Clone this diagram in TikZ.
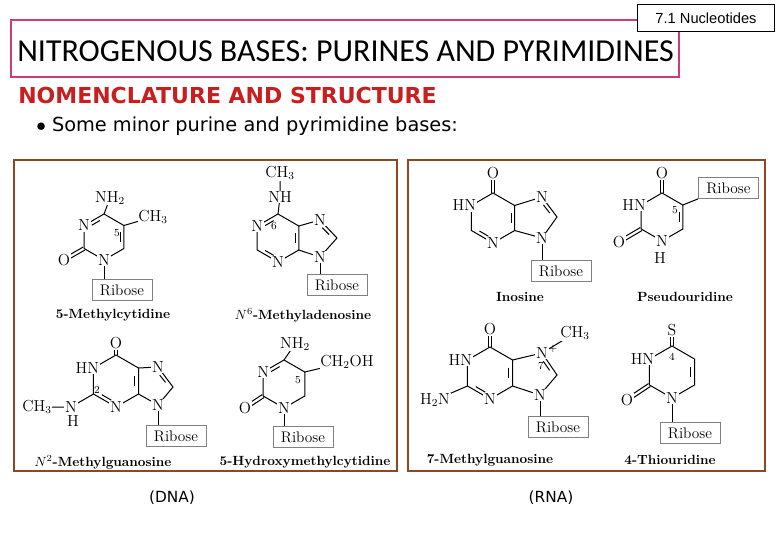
\documentclass[tikz,border=0pt]{standalone}
\usepackage{fontspec}
\usetikzlibrary{calc}
\newfontfamily\titlefont{Carlito}
\newfontfamily\verd{DejaVu Sans}
\newfontfamily\arialf{Liberation Sans}
\definecolor{brownf}{RGB}{138,72,36}
\definecolor{pinkf}{RGB}{205,60,120}
\definecolor{redt}{RGB}{200,30,30}
\tikzset{
 bond/.style={line width=0.75pt},
 atom/.style={fill=white,inner sep=0.6pt,font=\fontsize{12}{14}\selectfont},
 small/.style={font=\footnotesize,inner sep=0pt},
 ribbox/.style={draw=gray,line width=0.6pt,minimum width=60*0.75pt,minimum height=21*0.75pt,inner sep=1pt,fill=white,font=\fontsize{11.5}{13}\selectfont},
 cname/.style={font=\fontsize{10}{12}\selectfont\bfseries,inner sep=1pt},
 panel/.style={draw=brownf,line width=2.2pt}
}
\newcommand\hexr[4]{%
 \coordinate (#4c) at (#1,#2);
 \coordinate (#4t) at (#1,{#2-#3});
 \coordinate (#4ur) at ({#1+0.866*#3},{#2-0.5*#3});
 \coordinate (#4lr) at ({#1+0.866*#3},{#2+0.5*#3});
 \coordinate (#4b) at (#1,{#2+#3});
 \coordinate (#4ll) at ({#1-0.866*#3},{#2+0.5*#3});
 \coordinate (#4ul) at ({#1-0.866*#3},{#2-0.5*#3});
 \draw[bond] (#4t)--(#4ur)--(#4lr)--(#4b)--(#4ll)--(#4ul)--cycle;}
\newcommand\pent[7]{%
 \coordinate (#1p7) at (#2,#3);
 \coordinate (#1p8) at (#4,#5);
 \coordinate (#1p9) at (#6,#7);
 \coordinate (#1pc) at ($($(#1ur)!.5!(#1lr)$)!.45!(#1p8)$);
 \draw[bond] (#1ur)--(#1p7)--(#1p8)--(#1p9)--(#1lr);}
\newcommand\dbl[3]{\draw[bond] ($($(#1)!.25!(#2)$)!2.8pt!(#3)$) -- ($($(#1)!.75!(#2)$)!2.8pt!(#3)$);}
\newcommand\dbo[2]{\draw[bond] ($(#1)!1.3pt!90:(#2)$) -- ($(#2)!1.3pt!-90:(#1)$);
 \draw[bond] ($(#1)!1.3pt!-90:(#2)$) -- ($(#2)!1.3pt!90:(#1)$);}
\begin{document}
\begin{tikzpicture}[x=0.75pt,y=-0.75pt]
\useasboundingbox (0,0) rectangle (780,540);
% header
\node[draw=pinkf,line width=1.5pt,minimum width=668*0.75pt,minimum height=57*0.75pt,inner sep=0pt] (title) at (345,48) {};
\node[anchor=west,inner sep=0pt,font=\titlefont\fontsize{24}{26}\selectfont] (titletext) at (17,51) {NITROGENOUS BASES: PURINES AND PYRIMIDINES};
\node[draw,fill=white,line width=0.8pt,minimum width=137*0.75pt,minimum height=27*0.75pt,inner sep=0pt,font=\arialf\fontsize{11}{12}\selectfont] (hdr) at (706,18) {7.1 Nucleotides};
\node[anchor=west,text=redt,font=\verd\bfseries\fontsize{16.5}{18}\selectfont,inner sep=0pt] (nom) at (18,95) {NOMENCLATURE AND STRUCTURE};
\node[anchor=west,font=\verd\fontsize{14.5}{17}\selectfont,inner sep=0pt] (bul) at (36,126) {$\bullet$ Some minor purine and pyrimidine bases:};
\draw[panel] (14,160) rectangle (397,471);
\draw[panel] (408,160) rectangle (765,471);
\node[font=\verd\fontsize{11.5}{13}\selectfont] (dna) at (172,498) {(DNA)};
\node[font=\verd\fontsize{11.5}{13}\selectfont] (rna) at (551,498) {(RNA)};

% ===== 5-Methylcytidine
\hexr{104}{237}{23}{a}
\dbl{at}{aul}{ac} \dbl{aur}{alr}{ac}
\coordinate (aN) at (110,198); \coordinate (aCH) at (153,217); \coordinate (aO) at (64,260);
\draw[bond] (at)--(aN); \draw[bond] (aur)--(aCH); \dbo{all}{aO};
\node[ribbox] (arib) at (122,290) {Ribose};
\draw[bond] (ab)--(arib.north -| ab);
\node[atom] (aNH2) at (aN) {NH$_2$};
\node[atom] (aCH3) at (aCH) {CH$_3$};
\node[atom] (aOx) at (aO) {O};
\node[atom] (aN3) at (aul) {N};
\node[atom] (aN1) at (ab) {N};
\node[small] (a5) at (117,233) {5};
\node[cname] (aname) at (113,315) {5-Methylcytidine};

% ===== N6-Methyladenosine
\hexr{278}{238}{24}{b}
\pent{b}{320}{220}{337}{238}{320}{257}
\dbl{bt}{bul}{bc} \dbl{bll}{bb}{bc} \dbl{bur}{blr}{bc} \dbl{bp7}{bp8}{bpc}
\coordinate (bN) at (280,197); \coordinate (bC) at (280,173);
\draw[bond] (bt)--(bN)--(bC);
\node[ribbox] (brib) at (337,285) {Ribose};
\draw[bond] (bp9)--(brib.north -| bp9);
\node[atom] (bNH) at (bN) {NH};
\node[atom] (bCH3) at (bC) {CH$_3$};
\node[atom] (bN1) at (bul) {N};
\node[atom] (bN3) at (bb) {N};
\node[atom] (bN7) at (bp7) {N};
\node[atom] (bN9) at (bp9) {N};
\node[small] (b6) at (274,226) {6};
\node[cname] (bname) at (303,315) {$N^6$-Methyladenosine};

% ===== N2-Methylguanosine
\hexr{116}{381}{26}{c}
\pent{c}{158}{367}{173}{387}{158}{405}
\dbl{cll}{cb}{cc} \dbl{cur}{clr}{cc} \dbl{cp7}{cp8}{cpc}
\coordinate (cO) at (116,343); \coordinate (cNm) at (71,407); \coordinate (cCH) at (37,407);
\dbo{ct}{cO}; \draw[bond] (cll)--(cNm)--(cCH);
\node[ribbox] (crib) at (176,436) {Ribose};
\draw[bond] (cp9)--(crib.north -| cp9);
\node[atom] (cOx) at (cO) {O};
\node[atom] (cHN) at ($(cul)+(-6,0)$) {HN};
\node[atom] (cN3) at (cb) {N};
\node[atom] (cN7) at (cp7) {N};
\node[atom] (cN9) at (cp9) {N};
\node[atom] (cN2) at (cNm) {N};
\node[atom] (cH) at (73,421) {H};
\node[atom] (cCH3) at (cCH) {CH$_3$};
\node[small] (c2) at (97,390) {2};
\node[cname] (cname) at (103,462) {$N^2$-Methylguanosine};

% ===== 5-Hydroxymethylcytidine
\hexr{284}{384}{24}{d}
\dbl{dt}{dul}{dc}
\coordinate (dN) at (295,344); \coordinate (dCH) at (347,362); \coordinate (dO) at (245,408);
\draw[bond] (dt)--(dN); \draw[bond] (dur)--(dCH); \dbo{dll}{dO};
\node[ribbox] (drib) at (303,437) {Ribose};
\draw[bond] (db)--(drib.north -| db);
\node[atom] (dNH2) at (dN) {NH$_2$};
\node[atom] (dCH2) at (dCH) {CH$_2$OH};
\node[atom] (dOx) at (dO) {O};
\node[atom] (dN3) at (dul) {N};
\node[atom] (dN1) at (db) {N};
\node[small] (d5) at (298,380) {5};
\node[cname] (dname) at (305,462) {5-Hydroxymethylcytidine};

% ===== Inosine
\hexr{493}{218}{25}{e}
\pent{e}{542}{197}{557}{217}{542}{238}
\dbl{ell}{eb}{ec} \dbl{eur}{elr}{ec} \dbl{ep7}{ep8}{epc}
\coordinate (eO) at (493,173);
\dbo{et}{eO};
\node[ribbox] (erib) at (561,271) {Ribose};
\draw[bond] (ep9)--(erib.north -| ep9);
\node[atom] (eOx) at (eO) {O};
\node[atom] (eHN) at ($(eul)+(-7,0)$) {HN};
\node[atom] (eN3) at (eb) {N};
\node[atom] (eN7) at (ep7) {N};
\node[atom] (eN9) at (ep9) {N};
\node[cname] (ename) at (520,297) {Inosine};

% ===== Pseudouridine
\hexr{662}{217}{24}{f}
\dbl{fur}{flr}{fc}
\coordinate (fO) at (662,173); \coordinate (fO2) at (619,242);
\dbo{ft}{fO}; \dbo{fll}{fO2};
\node[ribbox,anchor=west] (frib) at (698,188) {Ribose};
\draw[bond] (fur)--(frib.south west);
\node[atom] (fOx) at (fO) {O};
\node[atom] (fOy) at (fO2) {O};
\node[atom] (fHN) at ($(ful)+(-7,0)$) {HN};
\node[atom] (fN1) at (fb) {N};
\node[atom] (fH) at (660,258) {H};
\node[small] (f5) at (675,210) {5};
\node[cname] (fname) at (685,297) {Pseudouridine};

% ===== 7-Methylguanosine
\hexr{490}{373}{26}{g}
\pent{g}{542}{353}{557}{375}{540}{395}
\dbl{gll}{gb}{gc} \dbl{gur}{glr}{gc} \dbl{gp7}{gp8}{gpc}
\coordinate (gO) at (490,329); \coordinate (gCH) at (575,333); \coordinate (gNH) at (435,400);
\dbo{gt}{gO}; \draw[bond] (gp7)--(gCH); \draw[bond] (gll)--(gNH);
\node[ribbox] (grib) at (558,427) {Ribose};
\draw[bond] (gp9)--(grib.north -| gp9);
\node[atom] (gOx) at (gO) {O};
\node[atom] (gCH3) at (gCH) {CH$_3$};
\node[atom] (gH2N) at (gNH) {H$_2$N};
\node[atom] (gHN) at ($(gul)+(-7,0)$) {HN};
\node[atom] (gN3) at (gb) {N};
\node[atom] (gN7) at (gp7) {N};
\node[atom] (gN9) at (gp9) {N};
\node[small] (gplus) at (553,349) {+};
\node[small] (g7) at (541,366) {7};
\node[cname] (gname) at (490,460) {7-Methylguanosine};

% ===== 4-Thiouridine
\hexr{672}{372}{26}{h}
\dbl{hur}{hlr}{hc}
\coordinate (hS) at (672,330); \coordinate (hO) at (627,400);
\dbo{ht}{hS}; \dbo{hll}{hO};
\node[ribbox] (hrib) at (690,433) {Ribose};
\draw[bond] (hb)--(hrib.north -| hb);
\node[atom] (hSx) at (hS) {S};
\node[atom] (hOx) at (hO) {O};
\node[atom] (hHN) at ($(hul)+(-7,0)$) {HN};
\node[atom] (hN1) at (hb) {N};
\node[small] (h4) at (672,357) {4};
\node[cname] (hname) at (670,460) {4-Thiouridine};
\end{tikzpicture}
\end{document}
